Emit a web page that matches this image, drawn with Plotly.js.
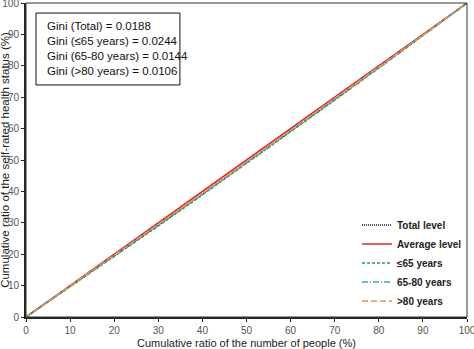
<!DOCTYPE html>
<html><head><meta charset="utf-8">
<script src="https://cdn.plot.ly/plotly-3.0.1.min.js"></script>
<style>html,body{margin:0;padding:0;background:#fff}</style>
</head><body>
<div id="chart" style="width:474px;height:349px"></div>
<script>
var xPeople = [0, 10, 20, 30, 40, 50, 60, 70, 80, 90, 100];
var totalLevel = [0, 9.7, 19.4, 29.2, 39.1, 49.1, 59.1, 69.2, 79.4, 89.7, 100];
var avgX = [0, 100];
var avgY = [0, 100];
var under65 = [0, 9.6, 19.2, 29.0, 38.9, 48.9, 59.0, 69.1, 79.3, 89.6, 100];
var y65to80 = [0, 9.8, 19.5, 29.4, 39.3, 49.3, 59.3, 69.4, 79.6, 89.8, 100];
var over80 = [0, 9.8, 19.6, 29.5, 39.4, 49.4, 59.4, 69.5, 79.6, 89.8, 100];
var seriesNames = ["Total level", "Average level", "\u226465 years", "65-80 years", ">80 years"];
var giniText = ["Gini (Total) = 0.0188", "Gini (\u226465 years) = 0.0244", "Gini (65-80 years) = 0.0144", "Gini (>80 years) = 0.0106"];
var xTitle = "Cumulative ratio of the number of people (%)";
var yTitle = "Cumulative ratio of the self-rated health status (%)";

var traces = [
  {x: xPeople, y: totalLevel, name: seriesNames[0], mode: "lines", line: {color: "#111", dash: "1px,1px", width: 1.6}},
  {x: avgX, y: avgY, name: seriesNames[1], mode: "lines", line: {color: "#e3262b", width: 1.6}},
  {x: xPeople, y: under65, name: seriesNames[2], mode: "lines", line: {color: "#1e9e5a", dash: "3px,2px", width: 1.6}},
  {x: xPeople, y: y65to80, name: seriesNames[3], mode: "lines", line: {color: "#3aa6c9", dash: "6px,2px,1px,2px", width: 1.6}},
  {x: xPeople, y: over80, name: seriesNames[4], mode: "lines", line: {color: "#f0904a", dash: "6px,3px", width: 1.6}}
];

var tickFont = {family: "Liberation Sans Narrow, Liberation Sans, Arial, sans-serif", size: 10, color: "#555"};
var layout = {
  width: 474, height: 349,
  margin: {l: 26, r: 7, t: 3, b: 32},
  paper_bgcolor: "#fff", plot_bgcolor: "#fff",
  font: {family: "Liberation Sans, Arial, sans-serif", color: "#222"},
  showlegend: true,
  legend: {x: 1.0, xanchor: "right", y: 0.005, yanchor: "bottom", bgcolor: "rgba(0,0,0,0)",
    font: {size: 10, color: "#222", family: "Liberation Sans, Arial, sans-serif", weight: "bold"},
    tracegroupgap: 0, itemwidth: 30},
  xaxis: {range: [0, 100], dtick: 10, showgrid: false, zeroline: false, ticklabeloverflow: "allow",
    showline: true, linecolor: "#222", linewidth: 2, ticks: "outside", ticklen: 3, tickwidth: 1, tickcolor: "#222",
    tickfont: tickFont,
    title: {text: xTitle, font: {size: 11, color: "#222"}, standoff: 4}},
  yaxis: {range: [0, 100], dtick: 10, showgrid: false, zeroline: false, ticklabeloverflow: "allow",
    showline: true, linecolor: "#222", linewidth: 2, ticks: "outside", ticklen: 3, tickwidth: 1, tickcolor: "#222",
    tickfont: tickFont},
  shapes: [
    {type: "rect", xref: "paper", yref: "paper", x0: 0, x1: 1, y0: 0, y1: 1, line: {color: "#333", width: 1}},
    {type: "rect", xref: "paper", yref: "paper", x0: 0.0227, x1: 0.349, y0: 0.739, y1: 0.968,
     line: {color: "#111", width: 1}, fillcolor: "#fff", layer: "above"}
  ],
  annotations: [{
    xref: "paper", yref: "paper", x: 0.043, y: 0.854, xanchor: "left", yanchor: "middle",
    text: giniText.join("<br>"), align: "left", showarrow: false,
    font: {size: 11.5, color: "#111"}
  }, {
    xref: "paper", yref: "paper", x: -0.048, y: 0.5, xanchor: "center", yanchor: "middle",
    text: yTitle, textangle: -90, showarrow: false, font: {size: 11.5, color: "#222"}
  }]
};
Plotly.newPlot("chart", traces, layout, {displayModeBar: false, staticPlot: true});
</script>
</body></html>
